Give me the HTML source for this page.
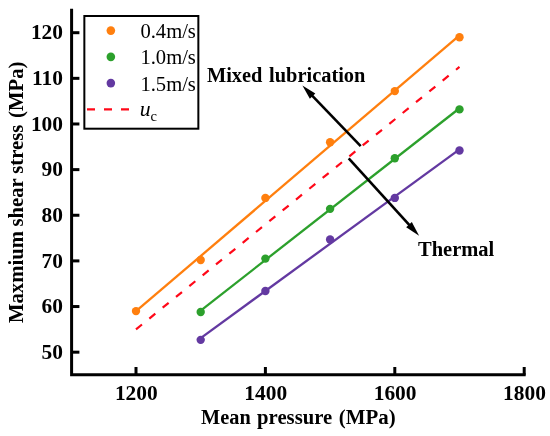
<!DOCTYPE html><html><head><meta charset="utf-8"><style>html,body{margin:0;padding:0;background:#fff}svg{display:block}</style></head><body><svg width="550" height="436" viewBox="0 0 550 436">
<rect width="550" height="436" fill="#fff"/>
<line x1="136.00" y1="311.23" x2="459.50" y2="35.31" stroke="#FF7F0E" stroke-width="2.3"/>
<line x1="200.70" y1="310.56" x2="459.50" y2="108.28" stroke="#2CA02C" stroke-width="2.3"/>
<line x1="200.70" y1="338.12" x2="459.50" y2="149.36" stroke="#6339A1" stroke-width="2.3"/>
<line x1="136.00" y1="329.36" x2="459.50" y2="66.93" stroke="#FF0818" stroke-width="2.2" stroke-dasharray="7.7 9.47"/>
<circle cx="136.00" cy="311.10" r="4.2" fill="#FF7F0E"/>
<circle cx="200.70" cy="259.99" r="4.2" fill="#FF7F0E"/>
<circle cx="265.40" cy="197.92" r="4.2" fill="#FF7F0E"/>
<circle cx="330.10" cy="142.24" r="4.2" fill="#FF7F0E"/>
<circle cx="394.80" cy="91.12" r="4.2" fill="#FF7F0E"/>
<circle cx="459.50" cy="37.26" r="4.2" fill="#FF7F0E"/>
<circle cx="200.70" cy="312.02" r="4.2" fill="#2CA02C"/>
<circle cx="265.40" cy="258.62" r="4.2" fill="#2CA02C"/>
<circle cx="330.10" cy="208.87" r="4.2" fill="#2CA02C"/>
<circle cx="394.80" cy="158.21" r="4.2" fill="#2CA02C"/>
<circle cx="459.50" cy="109.38" r="4.2" fill="#2CA02C"/>
<circle cx="200.70" cy="339.86" r="4.2" fill="#6339A1"/>
<circle cx="265.40" cy="291.02" r="4.2" fill="#6339A1"/>
<circle cx="330.10" cy="239.45" r="4.2" fill="#6339A1"/>
<circle cx="394.80" cy="197.92" r="4.2" fill="#6339A1"/>
<circle cx="459.50" cy="150.45" r="4.2" fill="#6339A1"/>
<g stroke="#000" stroke-width="3" fill="none">
<path d="M71.6 8.8V374.7H525.7"/>
<path d="M71.6 352.18H79.4"/>
<path d="M71.6 306.54H79.4"/>
<path d="M71.6 260.90H79.4"/>
<path d="M71.6 215.26H79.4"/>
<path d="M71.6 169.62H79.4"/>
<path d="M71.6 123.98H79.4"/>
<path d="M71.6 78.34H79.4"/>
<path d="M71.6 32.70H79.4"/>
<path d="M136.00 374.7V367"/>
<path d="M265.40 374.7V367"/>
<path d="M394.80 374.7V367"/>
<path d="M524.20 374.7V367"/>
</g>
<g font-family="'Liberation Serif', serif" font-weight="bold" font-size="20.7px" fill="#000">
<text transform="translate(63.0 358.88) scale(1.05 1)" font-size="20.4px" text-anchor="end">50</text>
<text transform="translate(63.0 313.24) scale(1.05 1)" font-size="20.4px" text-anchor="end">60</text>
<text transform="translate(63.0 267.60) scale(1.05 1)" font-size="20.4px" text-anchor="end">70</text>
<text transform="translate(63.0 221.96) scale(1.05 1)" font-size="20.4px" text-anchor="end">80</text>
<text transform="translate(63.0 176.32) scale(1.05 1)" font-size="20.4px" text-anchor="end">90</text>
<text transform="translate(63.0 130.68) scale(1.05 1)" font-size="20.4px" text-anchor="end">100</text>
<text transform="translate(63.0 85.04) scale(1.05 1)" font-size="20.4px" text-anchor="end">110</text>
<text transform="translate(63.0 39.40) scale(1.05 1)" font-size="20.4px" text-anchor="end">120</text>
<text transform="translate(136.30 399.6) scale(1.05 1)" font-size="20.4px" text-anchor="middle">1200</text>
<text transform="translate(265.70 399.6) scale(1.05 1)" font-size="20.4px" text-anchor="middle">1400</text>
<text transform="translate(395.10 399.6) scale(1.05 1)" font-size="20.4px" text-anchor="middle">1600</text>
<text transform="translate(524.50 399.6) scale(1.05 1)" font-size="20.4px" text-anchor="middle">1800</text>
<text x="201.10" y="424.4" font-size="20.3px">Mean</text>
<text x="257.10" y="424.4" font-size="20.7px">pressure</text>
<text x="338.80" y="424.4" font-size="20.9px">(MPa)</text>
<text x="206.90" y="82.3" font-size="20.4px">Mixed</text>
<text x="269.10" y="82.3" font-size="20.4px">lubrication</text>
<text x="418.00" y="255.6" font-size="20.5px">Thermal</text>
<text transform="translate(22.5 323.00) rotate(-90)">Maxmium</text>
<text transform="translate(22.5 226.50) rotate(-90)">shear</text>
<text transform="translate(22.5 173.80) rotate(-90)">stress</text>
<text transform="translate(22.5 117.90) rotate(-90)">(MPa)</text>
</g>
<rect x="84.35" y="16" width="114.0" height="112.7" fill="#fff" stroke="#000" stroke-width="2"/>
<circle cx="110.85" cy="30.60" r="4.3" fill="#FF7F0E"/>
<circle cx="110.85" cy="56.85" r="4.3" fill="#2CA02C"/>
<circle cx="110.85" cy="83.10" r="4.3" fill="#6339A1"/>
<line x1="87" y1="109.4" x2="130" y2="109.4" stroke="#FF0818" stroke-width="2.4" stroke-dasharray="8 9"/>
<g font-family="'Liberation Serif', serif" font-size="20.6px" fill="#000">
<text x="140.4" y="37.80">0.4m/s</text>
<text x="140.4" y="64.15">1.0m/s</text>
<text x="140.4" y="90.50">1.5m/s</text>
<text x="139.7" y="115.7" font-style="italic" font-size="21.8px">u</text><text x="150.4" y="121.4" font-size="14.5px">c</text>
</g>
<line x1="360.70" y1="146.10" x2="311.91" y2="95.47" stroke="#000" stroke-width="2.6"/><polygon points="302.40,85.60 315.34,93.55 309.86,98.82" fill="#000"/>
<line x1="348.70" y1="158.30" x2="409.68" y2="225.39" stroke="#000" stroke-width="2.6"/><polygon points="419.10,235.75 406.20,227.21 411.82,222.09" fill="#000"/>
</svg></body></html>
